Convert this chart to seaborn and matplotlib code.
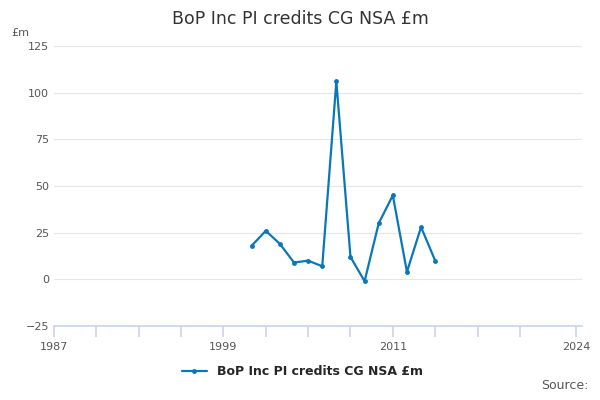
import matplotlib
matplotlib.use("Agg")
import matplotlib.pyplot as plt
import seaborn as sns
import pandas as pd

years = list(range(2001, 2015))
values = [18, 26, 19, 9, 10, 7, 106, 12, -1, 30, 45, 4, 28, 10]
series_name = "BoP Inc PI credits CG NSA £m"

sns.set_theme(style="white")
plt.rcParams['font.family'] = ['DejaVu Sans']
df = pd.DataFrame({"year": years, "value": values})

fig = plt.figure(figsize=(6, 4), dpi=100)
ax = fig.add_axes([0.09, 0.185, 0.88, 0.70])
sns.lineplot(data=df, x="year", y="value", ax=ax, color="#0a77b8", marker="o",
             markersize=3.5, markeredgewidth=0, linewidth=1.6, label=series_name)
ax.set_xlim(1987, 2024.4)
ax.set_ylim(-25, 125)
ax.set_yticks([-25, 0, 25, 50, 75, 100, 125])
ax.yaxis.grid(True, color="#e6e6e6", linewidth=0.8)
xt = list(range(1987, 2022, 3)) + [2024]
ax.set_xticks(xt)
ax.set_xticklabels([str(y) if y in (1987, 1999, 2011, 2024) else "" for y in xt])
ax.tick_params(axis="x", length=8, color="#ccd6eb", labelsize=8, labelcolor="#555555", bottom=True)
ax.tick_params(axis="y", length=0, labelsize=8, labelcolor="#555555")
for s in ["top", "right", "left"]:
    ax.spines[s].set_visible(False)
ax.spines["bottom"].set_color("#ccd6eb")
ax.set_xlabel("")
ax.set_ylabel("")
fig.text(0.018, 0.905, "£m", fontsize=8, color="#555555", ha="left", va="bottom")
fig.suptitle("BoP Inc PI credits CG NSA £m", y=0.975, fontsize=12.5, color="#333333")
ax.legend(loc="upper center", bbox_to_anchor=(0.47, -0.1), frameon=False,
          prop={"weight": "bold", "size": 9}, handlelength=2)
fig.text(0.98, 0.02, "Source:", ha="right", va="bottom", fontsize=9, color="#555555")
fig.savefig("out.png")
